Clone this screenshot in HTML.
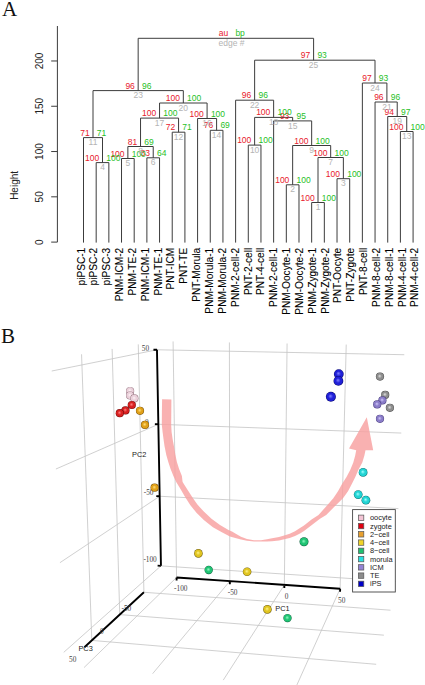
<!DOCTYPE html>
<html><head><meta charset="utf-8"><style>
html,body{margin:0;padding:0;background:#fff;width:425px;height:685px;overflow:hidden}
svg{display:block}

</style></head><body>
<svg width="425" height="685" viewBox="0 0 425 685" font-family="'Liberation Sans', sans-serif">
<defs><radialGradient id="goocyte" cx="0.5" cy="0.5" r="0.5" fx="0.45" fy="0.42"><stop offset="0" stop-color="#fdf3f6"/><stop offset="0.5" stop-color="#ead0da"/><stop offset="0.78" stop-color="#ead0da"/><stop offset="1" stop-color="#9a7a86"/></radialGradient><radialGradient id="gzygote" cx="0.5" cy="0.5" r="0.5" fx="0.45" fy="0.42"><stop offset="0" stop-color="#ff8080"/><stop offset="0.5" stop-color="#d82020"/><stop offset="0.78" stop-color="#d82020"/><stop offset="1" stop-color="#700808"/></radialGradient><radialGradient id="gc2" cx="0.5" cy="0.5" r="0.5" fx="0.45" fy="0.42"><stop offset="0" stop-color="#ffe080"/><stop offset="0.5" stop-color="#e0a018"/><stop offset="0.78" stop-color="#e0a018"/><stop offset="1" stop-color="#7a5006"/></radialGradient><radialGradient id="gc4" cx="0.5" cy="0.5" r="0.5" fx="0.45" fy="0.42"><stop offset="0" stop-color="#fff488"/><stop offset="0.5" stop-color="#e0c420"/><stop offset="0.78" stop-color="#e0c420"/><stop offset="1" stop-color="#6e5c06"/></radialGradient><radialGradient id="gc8" cx="0.5" cy="0.5" r="0.5" fx="0.45" fy="0.42"><stop offset="0" stop-color="#90f8c0"/><stop offset="0.5" stop-color="#20c474"/><stop offset="0.78" stop-color="#20c474"/><stop offset="1" stop-color="#08603a"/></radialGradient><radialGradient id="gmorula" cx="0.5" cy="0.5" r="0.5" fx="0.45" fy="0.42"><stop offset="0" stop-color="#a0ffff"/><stop offset="0.5" stop-color="#22d4d4"/><stop offset="0.78" stop-color="#22d4d4"/><stop offset="1" stop-color="#087070"/></radialGradient><radialGradient id="gicm" cx="0.5" cy="0.5" r="0.5" fx="0.45" fy="0.42"><stop offset="0" stop-color="#d0c8f8"/><stop offset="0.5" stop-color="#8a7cc8"/><stop offset="0.78" stop-color="#8a7cc8"/><stop offset="1" stop-color="#4a3e80"/></radialGradient><radialGradient id="gte" cx="0.5" cy="0.5" r="0.5" fx="0.45" fy="0.42"><stop offset="0" stop-color="#e0e0e0"/><stop offset="0.5" stop-color="#8e8e8e"/><stop offset="0.78" stop-color="#8e8e8e"/><stop offset="1" stop-color="#484848"/></radialGradient><radialGradient id="gips" cx="0.5" cy="0.5" r="0.5" fx="0.45" fy="0.42"><stop offset="0" stop-color="#8080ff"/><stop offset="0.5" stop-color="#2020d8"/><stop offset="0.78" stop-color="#2020d8"/><stop offset="1" stop-color="#08086c"/></radialGradient></defs>
<rect width="425" height="685" fill="#fff"/>
<text x="2" y="15.8" font-family="Liberation Serif" font-size="21" fill="#111">A</text>
<g font-size="10" fill="#222"><path d="M57.4 26V242.1" stroke="#3c3c3c" fill="none"/><path d="M51.2 242.1H57.4" stroke="#3c3c3c"/><text transform="translate(43.4,242.1) rotate(-90)" text-anchor="middle">0</text><path d="M51.2 196.82H57.4" stroke="#3c3c3c"/><text transform="translate(43.4,196.82) rotate(-90)" text-anchor="middle">50</text><path d="M51.2 151.54H57.4" stroke="#3c3c3c"/><text transform="translate(43.4,151.54) rotate(-90)" text-anchor="middle">100</text><path d="M51.2 106.26H57.4" stroke="#3c3c3c"/><text transform="translate(43.4,106.26) rotate(-90)" text-anchor="middle">150</text><path d="M51.2 60.98H57.4" stroke="#3c3c3c"/><text transform="translate(43.4,60.98) rotate(-90)" text-anchor="middle">200</text><text transform="translate(18.3,185.4) rotate(-90)" text-anchor="middle">Height</text></g>
<g fill="none" stroke="#3c3c3c" stroke-width="1"><path d="M311.67 242.6V202.5H324.34V242.6"/><path d="M286.32 242.6V184.8H298.99V242.6"/><path d="M337.02 242.6V178.7H349.7V242.6"/><path d="M96.18 242.6V162.6H108.85V242.6"/><path d="M121.53 242.6V158.5H134.2V242.6"/><path d="M146.88 242.6V157.8H159.56V242.6"/><path d="M318.01 202.5V157.5H343.36V178.7"/><path d="M127.87 158.5V146.5H153.22V157.8"/><path d="M292.65 184.8V145.5H330.68V157.5"/><path d="M248.29 242.6V145.1H260.96V242.6"/><path d="M83.5 242.6V137.6H102.51V162.6"/><path d="M172.23 242.6V132.2H184.91V242.6"/><path d="M400.4 242.6V131.5H413.08V242.6"/><path d="M210.26 242.6V130.3H222.94V242.6"/><path d="M273.64 242.6V120.9H311.67V145.5"/><path d="M197.58 242.6V118.5H216.6V130.3"/><path d="M140.54 146.5V118.1H178.57V132.2"/><path d="M254.63 145.1V117.4H292.65V120.9"/><path d="M387.72 242.6V116.5H406.74V131.5"/><path d="M159.56 118.1V103H207.09V118.5"/><path d="M375.05 242.6V102H397.23V116.5"/><path d="M235.61 242.6V100.2H273.64V117.4"/><path d="M93.01 137.6V90.6H183.32V103"/><path d="M362.37 242.6V83H386.9V102"/><path d="M254.63 100.2V60.2H375V83"/><path d="M138.17 90.6V38.3H313.6V60.2"/></g>
<g font-size="8.5"><text x="314.71" y="200.5" fill="#e8202c" text-anchor="end">100</text><text x="289.35" y="182.8" fill="#e8202c" text-anchor="end">100</text><text x="340.06" y="176.7" fill="#e8202c" text-anchor="end">100</text><text x="99.21" y="160.6" fill="#e8202c" text-anchor="end">100</text><text x="124.57" y="156.5" fill="#e8202c" text-anchor="end">100</text><text x="149.92" y="155.8" fill="#e8202c" text-anchor="end">83</text><text x="327.38" y="155.5" fill="#e8202c" text-anchor="end">100</text><text x="137.24" y="144.5" fill="#e8202c" text-anchor="end">81</text><text x="308.37" y="143.5" fill="#e8202c" text-anchor="end">100</text><text x="251.33" y="143.1" fill="#e8202c" text-anchor="end">100</text><text x="89.71" y="135.6" fill="#e8202c" text-anchor="end">71</text><text x="175.27" y="130.2" fill="#e8202c" text-anchor="end">72</text><text x="403.44" y="129.5" fill="#e8202c" text-anchor="end">100</text><text x="213.3" y="128.3" fill="#e8202c" text-anchor="end">76</text><text x="289.35" y="118.9" fill="#e8202c" text-anchor="end">93</text><text x="203.79" y="116.5" fill="#e8202c" text-anchor="end">100</text><text x="156.26" y="116.1" fill="#e8202c" text-anchor="end">100</text><text x="270.34" y="115.4" fill="#e8202c" text-anchor="end">100</text><text x="393.93" y="114.5" fill="#e8202c" text-anchor="end">94</text><text x="180.02" y="101" fill="#e8202c" text-anchor="end">100</text><text x="383.6" y="100" fill="#e8202c" text-anchor="end">96</text><text x="251.33" y="98.2" fill="#e8202c" text-anchor="end">96</text><text x="134.87" y="88.6" fill="#e8202c" text-anchor="end">96</text><text x="371.7" y="81" fill="#e8202c" text-anchor="end">97</text><text x="310.3" y="58.2" fill="#e8202c" text-anchor="end">97</text><text x="228.3" y="36.3" fill="#e8202c" text-anchor="end">au</text><text x="321.81" y="200.5" fill="#1fbf1f">100</text><text x="296.45" y="182.8" fill="#1fbf1f">100</text><text x="347.16" y="176.7" fill="#1fbf1f">100</text><text x="106.31" y="160.6" fill="#1fbf1f">100</text><text x="131.67" y="156.5" fill="#1fbf1f">100</text><text x="157.02" y="155.8" fill="#1fbf1f">64</text><text x="334.48" y="155.5" fill="#1fbf1f">100</text><text x="144.34" y="144.5" fill="#1fbf1f">69</text><text x="315.47" y="143.5" fill="#1fbf1f">100</text><text x="258.43" y="143.1" fill="#1fbf1f">100</text><text x="96.81" y="135.6" fill="#1fbf1f">71</text><text x="182.37" y="130.2" fill="#1fbf1f">71</text><text x="410.54" y="129.5" fill="#1fbf1f">100</text><text x="220.4" y="128.3" fill="#1fbf1f">69</text><text x="296.45" y="118.9" fill="#1fbf1f">95</text><text x="210.89" y="116.5" fill="#1fbf1f">100</text><text x="163.36" y="116.1" fill="#1fbf1f">100</text><text x="277.44" y="115.4" fill="#1fbf1f">100</text><text x="401.03" y="114.5" fill="#1fbf1f">97</text><text x="187.12" y="101" fill="#1fbf1f">100</text><text x="390.7" y="100" fill="#1fbf1f">96</text><text x="258.43" y="98.2" fill="#1fbf1f">96</text><text x="141.97" y="88.6" fill="#1fbf1f">96</text><text x="378.8" y="81" fill="#1fbf1f">93</text><text x="317.4" y="58.2" fill="#1fbf1f">93</text><text x="235.4" y="36.3" fill="#1fbf1f">bp</text><text x="318.01" y="210.1" fill="#b4b4b4" text-anchor="middle">1</text><text x="292.65" y="192.4" fill="#b4b4b4" text-anchor="middle">2</text><text x="343.36" y="186.3" fill="#b4b4b4" text-anchor="middle">3</text><text x="102.51" y="170.2" fill="#b4b4b4" text-anchor="middle">4</text><text x="127.87" y="166.1" fill="#b4b4b4" text-anchor="middle">5</text><text x="153.22" y="165.4" fill="#b4b4b4" text-anchor="middle">6</text><text x="330.68" y="165.1" fill="#b4b4b4" text-anchor="middle">7</text><text x="140.54" y="154.1" fill="#b4b4b4" text-anchor="middle">8</text><text x="311.67" y="153.1" fill="#b4b4b4" text-anchor="middle">9</text><text x="254.63" y="152.7" fill="#b4b4b4" text-anchor="middle">10</text><text x="93.01" y="145.2" fill="#b4b4b4" text-anchor="middle">11</text><text x="178.57" y="139.8" fill="#b4b4b4" text-anchor="middle">12</text><text x="406.74" y="139.1" fill="#b4b4b4" text-anchor="middle">13</text><text x="216.6" y="137.9" fill="#b4b4b4" text-anchor="middle">14</text><text x="292.65" y="128.5" fill="#b4b4b4" text-anchor="middle">15</text><text x="207.09" y="126.1" fill="#b4b4b4" text-anchor="middle">16</text><text x="159.56" y="125.7" fill="#b4b4b4" text-anchor="middle">17</text><text x="273.64" y="125" fill="#b4b4b4" text-anchor="middle">18</text><text x="397.23" y="124.1" fill="#b4b4b4" text-anchor="middle">19</text><text x="183.32" y="110.6" fill="#b4b4b4" text-anchor="middle">20</text><text x="386.9" y="109.6" fill="#b4b4b4" text-anchor="middle">21</text><text x="254.63" y="107.8" fill="#b4b4b4" text-anchor="middle">22</text><text x="138.17" y="98.2" fill="#b4b4b4" text-anchor="middle">23</text><text x="375" y="90.6" fill="#b4b4b4" text-anchor="middle">24</text><text x="313.6" y="67.8" fill="#b4b4b4" text-anchor="middle">25</text><text x="231.6" y="45.9" fill="#b4b4b4" text-anchor="middle">edge #</text></g>
<g font-size="10.15" fill="#000" stroke="#000" stroke-width="0.08"><text transform="translate(84.6,247.8) rotate(-90)" text-anchor="end">piPSC-1</text><text transform="translate(97.44,247.8) rotate(-90)" text-anchor="end">piPSC-2</text><text transform="translate(110.28,247.8) rotate(-90)" text-anchor="end">piPSC-3</text><text transform="translate(123.12,247.8) rotate(-90)" text-anchor="end">PNM-ICM-2</text><text transform="translate(135.96,247.8) rotate(-90)" text-anchor="end">PNM-TE-2</text><text transform="translate(148.8,247.8) rotate(-90)" text-anchor="end">PNM-ICM-1</text><text transform="translate(161.64,247.8) rotate(-90)" text-anchor="end">PNM-TE-1</text><text transform="translate(174.48,247.8) rotate(-90)" text-anchor="end">PNT-ICM</text><text transform="translate(187.32,247.8) rotate(-90)" text-anchor="end">PNT-TE</text><text transform="translate(200.16,247.8) rotate(-90)" text-anchor="end">PNT-Morula</text><text transform="translate(213,247.8) rotate(-90)" text-anchor="end">PNM-Morula-1</text><text transform="translate(225.84,247.8) rotate(-90)" text-anchor="end">PNM-Morula-2</text><text transform="translate(238.68,247.8) rotate(-90)" text-anchor="end">PNM-2-cell-2</text><text transform="translate(251.52,247.8) rotate(-90)" text-anchor="end">PNT-2-cell</text><text transform="translate(264.36,247.8) rotate(-90)" text-anchor="end">PNT-4-cell</text><text transform="translate(277.2,247.8) rotate(-90)" text-anchor="end">PNM-2-cell-1</text><text transform="translate(290.04,247.8) rotate(-90)" text-anchor="end">PNM-Oocyte-1</text><text transform="translate(302.88,247.8) rotate(-90)" text-anchor="end">PNM-Oocyte-2</text><text transform="translate(315.72,247.8) rotate(-90)" text-anchor="end">PNM-Zygote-1</text><text transform="translate(328.56,247.8) rotate(-90)" text-anchor="end">PNM-Zygote-2</text><text transform="translate(341.4,247.8) rotate(-90)" text-anchor="end">PNT-Oocyte</text><text transform="translate(354.24,247.8) rotate(-90)" text-anchor="end">PNT-Zygote</text><text transform="translate(367.08,247.8) rotate(-90)" text-anchor="end">PNT-8-cell</text><text transform="translate(379.92,247.8) rotate(-90)" text-anchor="end">PNM-8-cell-2</text><text transform="translate(392.76,247.8) rotate(-90)" text-anchor="end">PNM-8-cell-1</text><text transform="translate(405.6,247.8) rotate(-90)" text-anchor="end">PNM-4-cell-1</text><text transform="translate(418.44,247.8) rotate(-90)" text-anchor="end">PNM-4-cell-2</text></g>
<text x="1" y="342.8" font-family="Liberation Serif" font-size="21" fill="#111">B</text>
<path d="M143.91 592.29L138.28 344.36M119.74 614.6L112.11 348.93M91.79 640.41L81.55 354.27M160.96 565.88L63.76 652.32M159.67 496.26L59.93 562.69M158.35 424.27L55.92 469.02M156.97 349.78L51.72 371.02M176.57 577.43L173.09 341.41M229.84 581.11L229.4 342.44M284.35 584.86L287.09 343.49M340.14 588.71L346.22 344.56M160.96 565.88L395.59 581.52M159.67 496.26L398.38 508.59M158.35 424.27L401.27 433.05M156.97 349.78L404.27 354.73M176.57 577.43L84.08 667.53M229.84 581.11L152.64 673.7M284.35 584.86L223.29 680.07M340.14 588.71L296.14 686.63M143.91 592.29L390.49 610.2M119.74 614.6L383.88 635.17M91.79 640.41L376.17 664.29" stroke="#c4c4c4" stroke-width="0.8" fill="none"/>
<path d="M162.1 399.2L161.9 412L161.8 425L162.6 432L163.5 439L164.5 446L166.3 455L168.3 462L170.6 469L173.4 476L176.2 482L180.5 489.1L185.4 497.5L190.4 505.3L196.7 513.1L203.8 520.1L212.9 527.2L221.4 532.1L229.9 536.4L236.2 538.2L241 539.4L247 540.8L254 541.5L261 541.6L267 541.6L272 541.3L279 540.4L284.2 539.3L289.7 537.9L295 536L300 533.5L304 531L311.2 525.4L320 518.7L326.2 515L335.6 505.5L343 498.2L348 491.2L351.8 484.1L355.3 477.1L358.3 470L362.3 462.6L364.4 455.6L365.5 450.3L373.2 450.2L366.8 417.3L349 448.4L356.2 450.3L355.2 455.6L353.3 462.6L350.2 470L346.5 477.1L342 484.1L338 491.2L333.3 498.2L327 505.5L318.5 515L311.2 519.8L304 525.5L300 528L295 531.2L289.7 533.7L284.2 535.5L279 536.9L272 538.3L267 539.3L261 540.3L254 540.3L247 539L241 536.8L236.2 534L232 531.4L228.5 530L220 525.1L211.5 518.7L203.8 511.6L197.4 504.6L192.5 497.5L187.5 489.8L182.6 482L181.9 476L179.1 469L176.9 462L175.4 455L173.9 446L172.6 439L171.6 432L171.2 425L171.3 412L171.4 399.4Z" fill="#f8a0a0" fill-opacity="0.82"/>
<path d="M156.97 349.78L160.96 565.88M156.97 349.78L153.44 349.7M158.35 424.27L154.88 424.15M159.67 496.26L156.27 496.09M160.96 565.88L157.61 565.65M176.57 577.43L340.14 588.71M176.57 577.43L176.61 580.44M229.84 581.11L229.85 584.14M284.35 584.86L284.32 587.93M340.14 588.71L340.06 591.81M143.91 592.29L84.42 647.21" stroke="#000" stroke-width="1.9" fill="none" stroke-linecap="butt"/>
<g font-family="Liberation Serif" font-size="7.3" fill="#444"><text x="145.4" y="351.4" text-anchor="middle">50</text><text x="146.8" y="424.7" text-anchor="middle">0</text><text x="148.6" y="495" text-anchor="middle">-50</text><text x="150.1" y="562.4" text-anchor="middle">-100</text><text x="180.8" y="591" text-anchor="middle">-100</text><text x="232.6" y="595.1" text-anchor="middle">-50</text><text x="286.6" y="599.4" text-anchor="middle">0</text><text x="341.7" y="603.4" text-anchor="middle">50</text><text x="126.4" y="611" text-anchor="middle">-50</text><text x="101.8" y="634.4" text-anchor="middle">0</text><text x="72.7" y="661.9" text-anchor="middle">50</text></g>
<g font-size="7.4" fill="#222"><text x="132" y="457.2">PC2</text><text x="275.3" y="610.8">PC1</text><text x="78.4" y="651.0">PC3</text></g>
<circle cx="130.1" cy="391" r="4.1" fill="url(#goocyte)"/><circle cx="130.1" cy="395.5" r="4.1" fill="url(#goocyte)"/><circle cx="134.4" cy="398.4" r="4.1" fill="url(#goocyte)"/><circle cx="131.8" cy="405" r="4.1" fill="url(#gzygote)"/><circle cx="125.5" cy="410.4" r="4.1" fill="url(#gzygote)"/><circle cx="119.8" cy="413.2" r="4.1" fill="url(#gzygote)"/><circle cx="140" cy="410.8" r="4.1" fill="url(#gc2)"/><circle cx="145" cy="424.9" r="4.1" fill="url(#gc2)"/><circle cx="154.6" cy="487.7" r="4.1" fill="url(#gc2)"/><circle cx="198.4" cy="553.4" r="4.3" fill="url(#gc4)"/><circle cx="247.1" cy="571.8" r="4.3" fill="url(#gc4)"/><circle cx="267.4" cy="609.4" r="4.3" fill="url(#gc4)"/><circle cx="208.7" cy="570" r="4.2" fill="url(#gc8)"/><circle cx="287.5" cy="618.1" r="4.2" fill="url(#gc8)"/><circle cx="304" cy="541.8" r="4.5" fill="url(#gc8)"/><circle cx="363.1" cy="472.4" r="4.4" fill="url(#gmorula)"/><circle cx="358.2" cy="494.6" r="4.4" fill="url(#gmorula)"/><circle cx="365.9" cy="500.2" r="4.4" fill="url(#gmorula)"/><circle cx="380" cy="376.6" r="4.1" fill="url(#gte)"/><circle cx="385.2" cy="394.9" r="4.1" fill="url(#gte)"/><circle cx="389.9" cy="407.8" r="4.1" fill="url(#gte)"/><circle cx="382.4" cy="400.4" r="4.1" fill="url(#gicm)"/><circle cx="377.2" cy="404.4" r="4.1" fill="url(#gicm)"/><circle cx="380" cy="418.8" r="4.1" fill="url(#gicm)"/><circle cx="338.8" cy="374.1" r="4.9" fill="url(#gips)"/><circle cx="338.4" cy="380.9" r="4.9" fill="url(#gips)"/><circle cx="330.9" cy="396.8" r="5" fill="url(#gips)"/>
<g font-size="7.4" fill="#222"><rect x="352.6" y="509.6" width="42.7" height="82.4" fill="#fff" stroke="#444" stroke-width="0.9"/><rect x="358.4" y="515.1" width="5.4" height="5.4" fill="#f2c4d4" stroke="#555" stroke-width="0.7"/><text x="370" y="520.4">oocyte</text><rect x="358.4" y="523.36" width="5.4" height="5.4" fill="#e00010" stroke="#555" stroke-width="0.7"/><text x="370" y="528.66">zygote</text><rect x="358.4" y="531.62" width="5.4" height="5.4" fill="#e8a030" stroke="#555" stroke-width="0.7"/><text x="370" y="536.92">2−cell</text><rect x="358.4" y="539.88" width="5.4" height="5.4" fill="#f0d428" stroke="#555" stroke-width="0.7"/><text x="370" y="545.18">4−cell</text><rect x="358.4" y="548.14" width="5.4" height="5.4" fill="#20c070" stroke="#555" stroke-width="0.7"/><text x="370" y="553.44">8−cell</text><rect x="358.4" y="556.4" width="5.4" height="5.4" fill="#28e0e0" stroke="#555" stroke-width="0.7"/><text x="370" y="561.7">morula</text><rect x="358.4" y="564.66" width="5.4" height="5.4" fill="#9484d4" stroke="#555" stroke-width="0.7"/><text x="370" y="569.96">ICM</text><rect x="358.4" y="572.92" width="5.4" height="5.4" fill="#8c8c8c" stroke="#555" stroke-width="0.7"/><text x="370" y="578.22">TE</text><rect x="358.4" y="581.18" width="5.4" height="5.4" fill="#0000c8" stroke="#555" stroke-width="0.7"/><text x="370" y="586.48">iPS</text></g>
</svg>
</body></html>
